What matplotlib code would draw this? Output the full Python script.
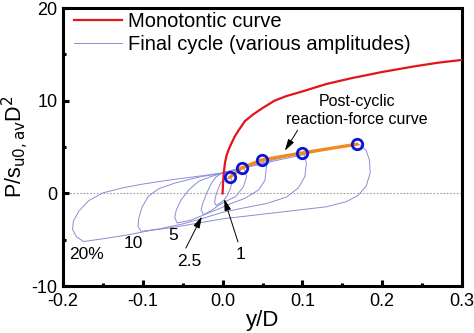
import numpy as np
import matplotlib.pyplot as plt
from matplotlib.ticker import MultipleLocator

plt.rcParams['font.family'] = ['Liberation Sans', 'DejaVu Sans']

# monotonic curve
mono_x = [0, 0.0005, 0.0015, 0.003, 0.005, 0.0075, 0.01, 0.015, 0.02, 0.028, 0.038,
          0.05, 0.065, 0.08, 0.1, 0.13, 0.16, 0.2, 0.24, 0.27, 0.3]
mono_y = [0, 1.0, 2.2, 3.3, 4.1, 4.7, 5.2, 6.1, 6.8, 7.8, 8.5,
          9.2, 10.0, 10.5, 11.0, 11.8, 12.4, 13.1, 13.7, 14.1, 14.4]

# post-cyclic reaction-force points
post_x = [0.0093, 0.024, 0.049, 0.099, 0.168]
post_y = [1.75, 2.75, 3.6, 4.35, 5.3]

# final cycles, one per amplitude
loop20_x = [0.170, 0.13, 0.10, 0.07, 0.04, 0.02, 0.0, -0.03, -0.07, -0.10, -0.125, -0.15,
            -0.168, -0.180, -0.187, -0.188, -0.183, -0.174, -0.15, -0.12, -0.09, -0.06,
            -0.03, 0.0, 0.03, 0.07, 0.10, 0.13, 0.155, 0.17, 0.18, 0.185, 0.184, 0.180,
            0.174, 0.170]
loop20_y = [5.3, 4.75, 4.15, 3.6, 3.0, 2.6, 2.2, 1.85, 1.4, 1.0, 0.6, 0.05,
            -0.8, -1.9, -3.0, -3.9, -4.7, -5.2, -4.9, -4.5, -4.0, -3.65,
            -3.2, -2.75, -2.45, -2.05, -1.75, -1.45, -0.9, -0.2, 0.8, 2.2, 3.6, 4.6,
            5.15, 5.3]

loop10_x = [0.100, 0.07, 0.04, 0.02, 0.0, -0.03, -0.06, -0.08, -0.093, -0.101, -0.105,
            -0.106, -0.102, -0.08, -0.05, -0.025, 0.0, 0.025, 0.055, 0.08, 0.095, 0.103,
            0.105, 0.103, 0.100]
loop10_y = [4.35, 3.75, 3.1, 2.65, 2.2, 1.75, 1.1, 0.5, -0.3, -1.5, -2.7,
            -3.6, -4.1, -3.85, -3.3, -2.7, -2.05, -1.6, -1.1, -0.4, 0.6, 1.8,
            3.2, 4.0, 4.35]

loop5_x = [0.05, 0.03, 0.015, 0.0, -0.015, -0.03, -0.042, -0.052, -0.058, -0.060,
           -0.057, -0.04, -0.02, 0.0, 0.011, 0.028, 0.045, 0.053, 0.055, 0.05]
loop5_y = [3.6, 3.0, 2.55, 2.2, 1.8, 1.3, 0.4, -0.7, -1.8, -2.6,
           -3.2, -2.9, -2.2, -1.5, -1.08, -0.54, 0.36, 1.4, 2.9, 3.6]

loop25_x = [0.025, 0.012, 0.0, -0.008, -0.014, -0.02, -0.025, -0.027, -0.024,
            -0.015, -0.005, 0.003, 0.016, 0.026, 0.03, 0.028, 0.025]
loop25_y = [2.75, 2.45, 2.2, 1.8, 1.1, 0.0, -1.1, -1.8, -2.3,
            -1.9, -1.3, -0.9, -0.37, 0.7, 1.8, 2.5, 2.75]

loop1_x = [0.010, 0.004, -0.002, -0.006, -0.009, -0.010, -0.008, -0.004, 0.002,
           0.006, 0.010, 0.012, 0.010]
loop1_y = [1.7, 1.6, 1.2, 0.4, -0.4, -1.0, -1.3, -1.1, -0.7,
           -0.2, 0.6, 1.3, 1.7]

loops = [(loop20_x, loop20_y), (loop10_x, loop10_y), (loop5_x, loop5_y),
         (loop25_x, loop25_y), (loop1_x, loop1_y)]

# amplitude labels
amp_labels = ['20%', '10', '5', '2.5', '1']
amp_label_x = [-0.171, -0.112, -0.062, -0.0415, 0.022]
amp_label_y = [-6.55, -5.45, -4.6, -7.35, -6.65]

fig = plt.figure(figsize=(4.74, 3.33), dpi=100)
ax = fig.add_axes([0.1329, 0.1411, 0.8418, 0.8348])

loop_color = '#8c8cd6'
ax.axhline(0, color='#a0a0a0', lw=0.8, ls=(0, (1.5, 1.5)), zorder=1)
for i, (lx, ly) in enumerate(loops):
    ax.plot(lx, ly, color=loop_color, lw=0.7, zorder=2,
            label='Final cycle (various amplitudes)' if i == 0 else None)
ax.plot(mono_x, mono_y, color='#e3141b', lw=1.6, zorder=3, label='Monotontic curve')
ax.plot(post_x, post_y, color='#f28a1e', lw=2.4, zorder=4)
ax.plot(post_x, post_y, ls='none', marker='o', ms=7.5, mfc='none', mec='#0a14d8',
        mew=2, zorder=5)

for t, tx, ty in zip(amp_labels, amp_label_x, amp_label_y):
    ax.text(tx, ty, t, fontsize=12.5, ha='center', va='center')

arrow = dict(arrowstyle='-|>,head_length=0.7,head_width=0.2', color='k', lw=0.7,
             shrinkA=0, shrinkB=0)
ax.annotate('', xy=(-0.026, -2.5), xytext=(-0.046, -5.9), arrowprops=arrow)
ax.annotate('', xy=(0.002, -0.6), xytext=(0.0193, -5.25), arrowprops=arrow)
ax.annotate('', xy=(0.078, 4.6), xytext=(0.094, 6.8), arrowprops=arrow)
ax.text(0.168, 8.93, 'Post-cyclic\nreaction-force curve', fontsize=11.5,
        ha='center', va='center', linespacing=1.3)

ax.set_xlim(-0.2, 0.3)
ax.set_ylim(-10, 20)
ax.xaxis.set_major_locator(MultipleLocator(0.1))
ax.xaxis.set_minor_locator(MultipleLocator(0.05))
ax.yaxis.set_major_locator(MultipleLocator(10))
ax.yaxis.set_minor_locator(MultipleLocator(5))
ax.set_xticks([-0.2, -0.1, 0.0, 0.1, 0.2, 0.3])
ax.set_xticklabels(['-0.2', '-0.1', '0.0', '0.1', '0.2', '0.3'])
ax.set_yticks([-10, 0, 10, 20])
ax.set_yticklabels(['-10', '0', '10', '20'])
ax.tick_params(which='both', direction='in', top=False, right=False, width=2.2,
               labelsize=13)
ax.tick_params(axis='x', pad=5)
ax.tick_params(axis='y', pad=4)
ax.tick_params(which='major', length=4.5)
ax.tick_params(which='minor', length=2.5)
for s in ax.spines.values():
    s.set_linewidth(2.2)

ax.set_xlabel('y/D', fontsize=16, labelpad=0)
ax.set_ylabel(r'P/s$_{\mathrm{u0,av}}$D$^2$', fontsize=15.5, labelpad=0)

h, l = ax.get_legend_handles_labels()
ax.legend(h[::-1], l[::-1], loc='upper left', bbox_to_anchor=(0.0276, 0.985),
          frameon=False, fontsize=14.5, borderpad=0, handlelength=2.4,
          handletextpad=0.3, labelspacing=0.2, borderaxespad=0)

fig.savefig('out.png', dpi=100)
